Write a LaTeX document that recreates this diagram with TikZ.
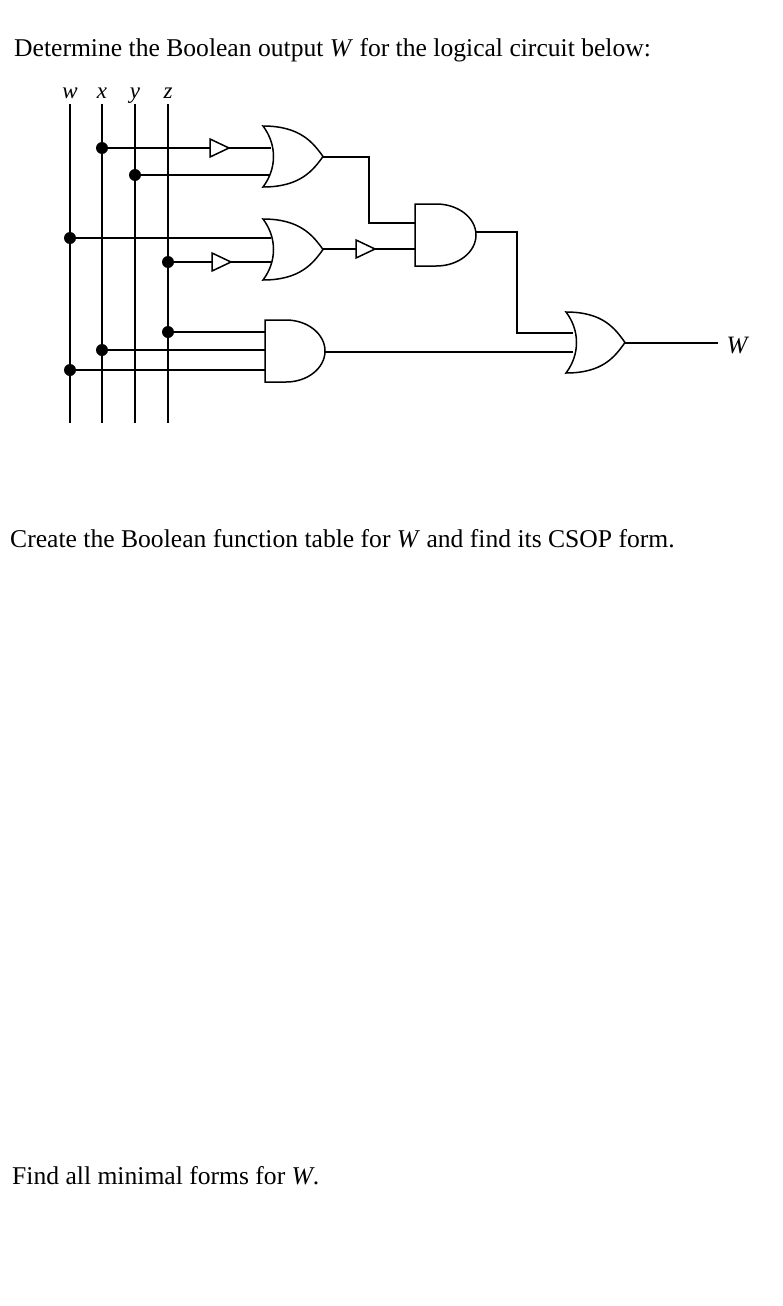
\documentclass[tikz,border=0pt]{standalone}
\usepackage{fontspec}
\setmainfont{Liberation Serif}
\begin{document}
\begin{tikzpicture}[x=1pt,y=-1pt,wire/.style={line width=2pt},gate/.style={line width=1.5pt,fill=white},
dot/.style={circle,fill=black,inner sep=0pt,minimum size=12pt},
txt/.style={anchor=base west,inner sep=0pt,font=\fontsize{25.6}{30}\selectfont}]
\useasboundingbox (0,0) rectangle (783,1306);
\newcommand{\orgate}[4]{% L T B X
 \draw[gate] (#1-2,#2) .. controls (#1+35,#2) and (#4-10,{(#2+#3)/2-14}) .. (#4,{(#2+#3)/2}) .. controls (#4-10,{(#2+#3)/2+14}) and (#1+35,#3) .. (#1-2,#3) .. controls (#1+12,{(#2+#3)/2+12}) and (#1+12,{(#2+#3)/2-12}) .. cycle;}
\newcommand{\andgate}[4]{%
 \draw[gate] (#1,#2) -- ({#1+0.35*(#4-#1)},#2) arc[start angle=-90,end angle=90,x radius={0.65*(#4-#1)},y radius={(#3-#2)/2}] -- (#1,#3) -- cycle;}
\newcommand{\buf}[2]{\draw[gate] (#1,#2-9) -- (#1+19,#2) -- (#1,#2+9) -- cycle;}
% text
\node[txt] (t1) at (14,57) {Determine the Boolean output \textit{W} for the logical circuit below:};
\node[txt] (t2) at (10,547) {Create the Boolean function table for \textit{W} and find its CSOP form.};
\node[txt] (t3) at (12,1184) {Find all minimal forms for \textit{W}.};
% input lines
\foreach \n/\xx in {w/70,x/102,y/135,z/168}{
 \node[font=\fontsize{23}{26}\selectfont\itshape,inner sep=0pt,anchor=base] (l\n) at (\xx,98) {\n};
 \draw[wire] (\xx,104) -- (\xx,423);}
% wires
\draw[wire] (102,148) -- (271,148);
\draw[wire] (135,175) -- (271,175);
\draw[wire] (70,238) -- (271,238);
\draw[wire] (168,262) -- (271,262);
\draw[wire] (168,332) -- (265,332);
\draw[wire] (102,350) -- (265,350);
\draw[wire] (70,370) -- (265,370);
\draw[wire] (323,157) -- (369,157) -- (369,223) -- (415,223);
\draw[wire] (323,249) -- (415,249);
\draw[wire] (476,232) -- (517,232) -- (517,333) -- (573,333);
\draw[wire] (325,352) -- (573,352);
\draw[wire] (625,343) -- (718,343);
\node[font=\fontsize{25}{28}\selectfont\itshape,inner sep=0pt] (W) at (737,346) {W};
% dots
\foreach \xx/\yy in {102/148,135/175,70/238,168/262,168/332,102/350,70/370}
 \node[dot] at (\xx,\yy) {};
% buffers
\buf{210}{148}\buf{212}{262}\buf{356}{249}
% gates
\orgate{265}{126}{187}{323}
\orgate{265}{219}{280}{323}
\andgate{265}{320}{382}{325}
\andgate{415}{204}{266}{476}
\orgate{568}{312}{373}{625}
\end{tikzpicture}
\end{document}
